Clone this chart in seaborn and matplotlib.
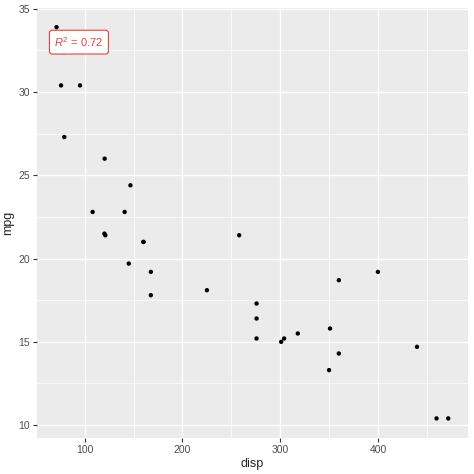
import numpy as np
import pandas as pd
import matplotlib
matplotlib.use("Agg")
import matplotlib.pyplot as plt
from matplotlib.ticker import MultipleLocator
import seaborn as sns

# mtcars: displacement vs miles per gallon
disp = [160, 160, 108, 258, 360, 225, 360, 146.7, 140.8, 167.6, 167.6,
        275.8, 275.8, 275.8, 472, 460, 440, 78.7, 75.7, 71.1, 120.1, 318,
        304, 350, 400, 79, 120.3, 95.1, 351, 145, 301, 121]
mpg = [21.0, 21.0, 22.8, 21.4, 18.7, 18.1, 14.3, 24.4, 22.8, 19.2, 17.8,
       16.4, 17.3, 15.2, 10.4, 10.4, 14.7, 32.4, 30.4, 33.9, 21.5, 15.5,
       15.2, 13.3, 19.2, 27.3, 26.0, 30.4, 15.8, 19.7, 15.0, 21.4]
df = pd.DataFrame({"disp": disp, "mpg": mpg})

r2 = np.corrcoef(df["disp"], df["mpg"])[0, 1] ** 2

sns.set_theme(style="darkgrid", rc={
    "axes.facecolor": "#EBEBEB",
    "grid.color": "white",
    "axes.edgecolor": "#EBEBEB",
})
plt.rcParams["font.family"] = ["Liberation Sans", "DejaVu Sans"]
plt.rcParams["mathtext.fontset"] = "custom"
plt.rcParams["mathtext.rm"] = "Liberation Sans"
plt.rcParams["mathtext.it"] = "Liberation Sans:italic"

fig = plt.figure(figsize=(4.74, 4.74), dpi=100)
ax = fig.add_axes([0.078, 0.076, 0.909, 0.908])

sns.scatterplot(data=df, x="disp", y="mpg", color="black", s=10,
                edgecolor="none", ax=ax, zorder=3)

xr = max(disp) - min(disp)
yr = max(mpg) - min(mpg)
ax.set_xlim(min(disp) - 0.05 * xr, max(disp) + 0.05 * xr)
ax.set_ylim(min(mpg) - 0.05 * yr, max(mpg) + 0.05 * yr)

ax.xaxis.set_major_locator(MultipleLocator(100))
ax.xaxis.set_minor_locator(MultipleLocator(50))
ax.yaxis.set_major_locator(MultipleLocator(5))
ax.yaxis.set_minor_locator(MultipleLocator(2.5))
ax.grid(which="major", color="white", linewidth=1.0)
ax.grid(which="minor", color="white", linewidth=0.5)
for s in ax.spines.values():
    s.set_visible(False)

ax.tick_params(which="major", length=3, width=0.8, color="#333333",
               labelsize=7.5, labelcolor="#4D4D4D", pad=2, bottom=True, left=True)
ax.tick_params(which="minor", length=0)
ax.set_xlabel("disp", fontsize=9, labelpad=2)
ax.set_ylabel("mpg", fontsize=9, labelpad=3)

ax.text(94, 33.0, f"$R^2$ = {r2:.2f}", color="#E8413C", fontsize=8,
        ha="center", va="center", zorder=5,
        bbox=dict(boxstyle="round,pad=0.45,rounding_size=0.25",
                  fc="white", ec="#E8413C", lw=0.8))

fig.savefig("out.png", dpi=100)
plt.close(fig)
